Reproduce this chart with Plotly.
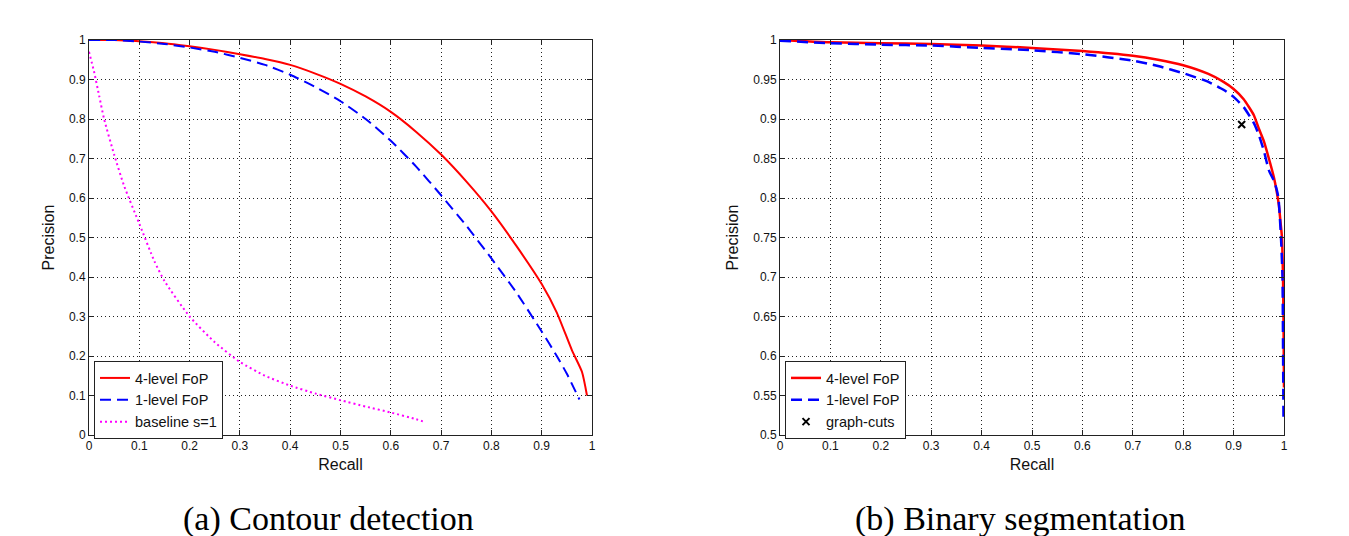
import plotly.graph_objects as go

# ---- data: (a) Contour detection ----
a_fop4_recall = [0, 0.05, 0.1, 0.15, 0.2, 0.25, 0.3, 0.35, 0.4, 0.45, 0.5, 0.55, 0.6, 0.65,
                 0.7, 0.75, 0.8, 0.85, 0.9, 0.93, 0.96, 0.98, 0.99]
a_fop4_prec = [1.0, 1.0, 0.997, 0.992, 0.984, 0.975, 0.964, 0.952, 0.937, 0.915, 0.889, 0.857,
               0.818, 0.768, 0.710, 0.642, 0.566, 0.478, 0.382, 0.31, 0.215, 0.16, 0.10]
a_fop1_recall = [0, 0.05, 0.1, 0.15, 0.2, 0.25, 0.3, 0.35, 0.4, 0.45, 0.5, 0.55, 0.6, 0.65,
                 0.7, 0.75, 0.8, 0.85, 0.9, 0.93, 0.95, 0.975]
a_fop1_prec = [1.0, 1.0, 0.996, 0.99, 0.981, 0.97, 0.955, 0.937, 0.912, 0.881, 0.845, 0.800,
               0.745, 0.680, 0.607, 0.530, 0.447, 0.360, 0.262, 0.20, 0.155, 0.09]
a_base_recall = [0, 0.01, 0.02, 0.03, 0.05, 0.07, 0.1, 0.13, 0.15, 0.2, 0.25, 0.3, 0.35, 0.4,
                 0.45, 0.5, 0.55, 0.6, 0.65, 0.67]
a_base_prec = [0.97, 0.92, 0.86, 0.80, 0.71, 0.63, 0.535, 0.44, 0.39, 0.30, 0.235, 0.185, 0.15,
               0.125, 0.105, 0.088, 0.072, 0.057, 0.04, 0.032]

# ---- data: (b) Binary segmentation ----
b_fop4_recall = [0, 0.1, 0.2, 0.3, 0.4, 0.5, 0.6, 0.7, 0.75, 0.8, 0.85, 0.88, 0.9, 0.92, 0.94,
                 0.95, 0.96, 0.97, 0.98, 0.985, 0.99, 0.993, 0.996, 0.998, 0.999, 1.0]
b_fop4_prec = [1.0, 0.997, 0.996, 0.995, 0.993, 0.990, 0.986, 0.980, 0.975, 0.968, 0.957, 0.947,
               0.938, 0.925, 0.905, 0.888, 0.872, 0.85, 0.826, 0.81, 0.79, 0.77, 0.75, 0.70,
               0.65, 0.56]
b_fop1_recall = [0, 0.1, 0.2, 0.3, 0.4, 0.5, 0.6, 0.7, 0.75, 0.8, 0.85, 0.88, 0.9, 0.92, 0.94,
                 0.95, 0.96, 0.97, 0.98, 0.985, 0.989, 0.994, 0.997, 0.998, 0.999]
b_fop1_prec = [0.999, 0.996, 0.994, 0.993, 0.990, 0.987, 0.982, 0.974, 0.967, 0.958, 0.947,
               0.937, 0.928, 0.915, 0.895, 0.88, 0.86, 0.835, 0.822, 0.812, 0.80, 0.75, 0.70,
               0.62, 0.52]
b_gc_recall = [0.916]
b_gc_prec = [0.893]

# ---- tick labels ----
x_ticks = [0, 0.1, 0.2, 0.3, 0.4, 0.5, 0.6, 0.7, 0.8, 0.9, 1]
x_tick_text = ["0", "0.1", "0.2", "0.3", "0.4", "0.5", "0.6", "0.7", "0.8", "0.9", "1"]
a_y_ticks = [0, 0.1, 0.2, 0.3, 0.4, 0.5, 0.6, 0.7, 0.8, 0.9, 1]
a_y_tick_text = ["0", "0.1", "0.2", "0.3", "0.4", "0.5", "0.6", "0.7", "0.8", "0.9", "1"]
b_y_ticks = [0.5, 0.55, 0.6, 0.65, 0.7, 0.75, 0.8, 0.85, 0.9, 0.95, 1]
b_y_tick_text = ["0.5", "0.55", "0.6", "0.65", "0.7", "0.75", "0.8", "0.85", "0.9", "0.95", "1"]

captions = ["(a) Contour detection", "(b) Binary segmentation"]

# page body has an 8px default margin; figure origin sits at (8, 8) in the window
OX, OY = 8, 8
W, H = 1341, 528


def px_x(x):
    return (x - OX) / W


def px_y(y):
    return (H - (y - OY)) / H


RED, BLUE, MAG = "#ff0000", "#0000ff", "#ff00ff"
BLUE_DASH = "11px,6px"
MAG_DOT = "2px,3px"

fig = go.Figure()
fig.add_trace(go.Scatter(x=a_fop4_recall, y=a_fop4_prec, mode="lines", name="4-level FoP",
                         line=dict(color=RED, width=2, shape="spline", smoothing=0.6),
                         xaxis="x", yaxis="y", legend="legend"))
fig.add_trace(go.Scatter(x=a_fop1_recall, y=a_fop1_prec, mode="lines", name="1-level FoP",
                         line=dict(color=BLUE, width=2, dash=BLUE_DASH, shape="spline", smoothing=0.6),
                         xaxis="x", yaxis="y", legend="legend"))
fig.add_trace(go.Scatter(x=a_base_recall, y=a_base_prec, mode="lines", name="baseline s=1",
                         line=dict(color=MAG, width=2, dash=MAG_DOT, shape="spline", smoothing=0.6),
                         xaxis="x", yaxis="y", legend="legend"))

fig.add_trace(go.Scatter(x=b_fop4_recall, y=b_fop4_prec, mode="lines", name="4-level FoP",
                         line=dict(color=RED, width=2.5, shape="spline", smoothing=0.5),
                         xaxis="x2", yaxis="y2", legend="legend2"))
fig.add_trace(go.Scatter(x=b_fop1_recall, y=b_fop1_prec, mode="lines", name="1-level FoP",
                         line=dict(color=BLUE, width=2.5, dash=BLUE_DASH, shape="spline", smoothing=0.5),
                         xaxis="x2", yaxis="y2", legend="legend2"))
fig.add_trace(go.Scatter(x=b_gc_recall, y=b_gc_prec, mode="markers", name="graph-cuts",
                         marker=dict(symbol="x-thin", size=7, color="black",
                                     line=dict(width=2, color="black")),
                         xaxis="x2", yaxis="y2", legend="legend2"))

SANS = "Liberation Sans, Arial, sans-serif"
tickfont = dict(family=SANS, size=12, color="#111")
titlefont = dict(family=SANS, size=16, color="#111")


def common_axis():
    return dict(showgrid=True, gridcolor="#222", griddash="1px,3px", gridwidth=1,
                showline=True, linecolor="#222", linewidth=1, mirror="ticks",
                ticks="inside", ticklen=5, tickcolor="#222", zeroline=False,
                tickfont=tickfont, automargin=False, fixedrange=True)


def xax(domain, anchor):
    d = common_axis()
    d.update(domain=domain, anchor=anchor, range=[0, 1], tickvals=x_ticks, ticktext=x_tick_text,
             title=dict(text="Recall", font=titlefont, standoff=6))
    return d


def yax(domain, anchor, rng, tv, tt):
    d = common_axis()
    d.update(domain=domain, anchor=anchor, range=rng, tickvals=tv, ticktext=tt,
             title=dict(text="Precision", font=titlefont, standoff=10))
    return d


ydom = [px_y(435), px_y(40)]
legfont = dict(family=SANS, size=14.5, color="#111")

fig.update_layout(
    width=W, height=H, template="none",
    paper_bgcolor="white", plot_bgcolor="white",
    margin=dict(l=0, r=0, t=0, b=0),
    showlegend=True,
    xaxis=xax([px_x(89), px_x(592)], "y"),
    yaxis=yax(ydom, "x", [0, 1], a_y_ticks, a_y_tick_text),
    xaxis2=xax([px_x(780), px_x(1284)], "y2"),
    yaxis2=yax(ydom, "x2", [0.5, 1], b_y_ticks, b_y_tick_text),
    legend=dict(x=px_x(94), y=px_y(361), xanchor="left", yanchor="top",
                bgcolor="white", bordercolor="#222", borderwidth=1, font=legfont,
                tracegroupgap=0, itemwidth=30),
    legend2=dict(x=px_x(785), y=px_y(361), xanchor="left", yanchor="top",
                 bgcolor="white", bordercolor="#222", borderwidth=1, font=legfont,
                 tracegroupgap=0, itemwidth=30),
)

cap_font = dict(family="Liberation Serif, Times New Roman, serif", size=34, color="black")
for cx, txt in zip([328, 1020], captions):
    fig.add_annotation(x=px_x(cx), y=px_y(519), xref="paper", yref="paper",
                       text=txt, showarrow=False, font=cap_font,
                       xanchor="center", yanchor="middle")

fig.write_html("out.html")
